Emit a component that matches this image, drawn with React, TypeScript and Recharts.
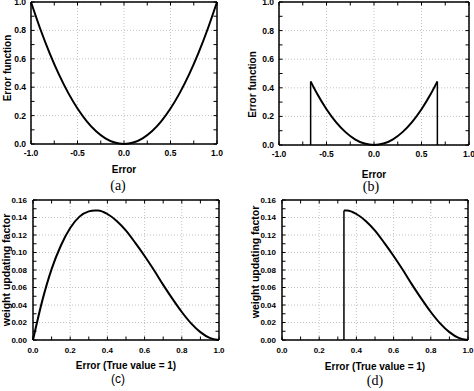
import React from 'react';
import { LineChart, Line, XAxis, YAxis, CartesianGrid } from 'recharts';

// ---- Panel (a): error function, full range ----
const A_X = [-1, -0.9, -0.8, -0.7, -0.6, -0.5, -0.4, -0.3, -0.2, -0.1, 0, 0.1, 0.2, 0.3, 0.4, 0.5, 0.6, 0.7, 0.8, 0.9, 1];
const A_Y = [1, 0.81, 0.64, 0.49, 0.36, 0.25, 0.16, 0.09, 0.04, 0.01, 0, 0.01, 0.04, 0.09, 0.16, 0.25, 0.36, 0.49, 0.64, 0.81, 1];

// ---- Panel (b): truncated error function ----
const B_X = [-0.667, -0.6, -0.5, -0.4, -0.3, -0.2, -0.1, 0, 0.1, 0.2, 0.3, 0.4, 0.5, 0.6, 0.667];
const B_Y = [0.444, 0.36, 0.25, 0.16, 0.09, 0.04, 0.01, 0, 0.01, 0.04, 0.09, 0.16, 0.25, 0.36, 0.444];
const B_EDGES = [-0.667, 0.667];
const B_EDGE_TOP = 0.444;

// ---- Panel (c): weight updating factor ----
const C_X = [0, 0.05, 0.1, 0.15, 0.2, 0.25, 0.3, 0.333, 0.35, 0.4, 0.45, 0.5, 0.55, 0.6, 0.65, 0.7, 0.75, 0.8, 0.85, 0.9, 0.95, 1];
const C_Y = [0, 0.045, 0.081, 0.108, 0.128, 0.141, 0.147, 0.148, 0.148, 0.144, 0.136, 0.125, 0.111, 0.096, 0.080, 0.063, 0.047, 0.032, 0.019, 0.009, 0.0024, 0];

// ---- Panel (d): truncated weight updating factor ----
const D_X = [0.333, 0.35, 0.4, 0.45, 0.5, 0.55, 0.6, 0.65, 0.7, 0.75, 0.8, 0.85, 0.9, 0.95, 1];
const D_Y = [0.148, 0.148, 0.144, 0.136, 0.125, 0.111, 0.096, 0.080, 0.063, 0.047, 0.032, 0.019, 0.009, 0.0024, 0];
const D_EDGE = 0.333;
const D_EDGE_TOP = 0.148;

// ---- Ticks ----
const ERR_X_MAJOR = [-1, -0.5, 0, 0.5, 1];
const ERR_X_MINOR = [-1, -0.75, -0.5, -0.25, 0, 0.25, 0.5, 0.75, 1];
const ERR_Y_MAJOR = [0, 0.2, 0.4, 0.6, 0.8, 1];
const ERR_Y_MINOR = [0, 0.1, 0.2, 0.3, 0.4, 0.5, 0.6, 0.7, 0.8, 0.9, 1];
const W_X_MAJOR = [0, 0.2, 0.4, 0.6, 0.8, 1];
const W_X_MINOR = [0, 0.1, 0.2, 0.3, 0.4, 0.5, 0.6, 0.7, 0.8, 0.9, 1];
const W_Y_MAJOR = [0, 0.02, 0.04, 0.06, 0.08, 0.1, 0.12, 0.14, 0.16];
const W_Y_MINOR = [0, 0.01, 0.02, 0.03, 0.04, 0.05, 0.06, 0.07, 0.08, 0.09, 0.1, 0.11, 0.12, 0.13, 0.14, 0.15, 0.16];

const zip = (xs: number[], ys: number[]) => xs.map((x, i) => ({ x, y: ys[i] }));
const isIn = (list: number[], v: number) => list.some((m) => Math.abs(m - v) < 1e-9);

const SANS = '"Liberation Sans", Arial, sans-serif';
const SERIF = '"Liberation Serif", "Times New Roman", serif';

type Series = { data: { x: number; y: number }[]; type: 'monotone' | 'linear'; w: number };

type PanelProps = {
  plotLeft: number; plotTop: number; plotW: number; plotH: number; yAxisWidth: number;
  xDomain: [number, number]; yDomain: [number, number];
  xMajor: number[]; xMinor: number[]; yMajor: number[]; yMinor: number[];
  xDigits: number; yDigits: number;
  xTitle: string; yTitle: string; xTitleOffset: number; yTitleOffset: number; yTitleDy: number;
  tickFont: number; yTitleFont: number;
  xLabelGap: number; yLabelGap: number;
  series: Series[];
};

const TICK_IN = 3.5;

function Panel(p: PanelProps) {
  const MT = 4, MR = 6, XH = 36;
  const W = p.yAxisWidth + p.plotW + MR;
  const H = MT + p.plotH + XH;
  const frame = { stroke: '#000', strokeWidth: 1.5 };
  const textProps = { fill: '#000', fontSize: p.tickFont, fontWeight: 700, fontFamily: SANS };

  // bottom axis tick: inward minor tick at bottom and top edge, label for majors
  const XTick = (t: any) => {
    const v = t.payload.value as number;
    const base = t.y - p.xLabelGap; // plot bottom edge
    return (
      <g>
        <line x1={t.x} x2={t.x} y1={base} y2={base - TICK_IN} stroke="#000" strokeWidth={1} />
        <line x1={t.x} x2={t.x} y1={base - p.plotH} y2={base - p.plotH + TICK_IN} stroke="#000" strokeWidth={1} />
        {isIn(p.xMajor, v) && (
          <text x={t.x} y={t.y} dy="0.71em" textAnchor="middle" {...textProps}>{v.toFixed(p.xDigits)}</text>
        )}
      </g>
    );
  };
  // left axis tick: inward minor tick at left and right edge, label for majors
  const YTick = (t: any) => {
    const v = t.payload.value as number;
    const base = t.x + p.yLabelGap; // plot left edge
    return (
      <g>
        <line x1={base} x2={base + TICK_IN} y1={t.y} y2={t.y} stroke="#000" strokeWidth={1} />
        <line x1={base + p.plotW} x2={base + p.plotW - TICK_IN} y1={t.y} y2={t.y} stroke="#000" strokeWidth={1} />
        {isIn(p.yMajor, v) && (
          <text x={t.x} y={t.y} dy="0.355em" textAnchor="end" {...textProps}>{v.toFixed(p.yDigits)}</text>
        )}
      </g>
    );
  };

  const base = p.series[0].data;
  return (
    <div style={{ position: 'absolute', left: p.plotLeft - p.yAxisWidth, top: p.plotTop - MT }}>
      <LineChart width={W} height={H} margin={{ top: MT, right: MR, left: 0, bottom: 0 }}>
        <CartesianGrid xAxisId="x" yAxisId="y" stroke="#c4c4c4" strokeDasharray="1 2" strokeWidth={1}
          verticalValues={p.xMajor} horizontalValues={p.yMajor} />
        <XAxis
          xAxisId="x" type="number" dataKey="x" domain={p.xDomain} ticks={p.xMinor} interval={0}
          height={XH} tickLine={false} axisLine={frame}
          tickSize={0} tickMargin={p.xLabelGap} tick={XTick}
          label={{ value: p.xTitle, position: 'insideBottom', offset: p.xTitleOffset, style: { fill: '#000', fontSize: 10, fontWeight: 700, fontFamily: SANS } }}
        />
        <XAxis xAxisId="xt" type="number" dataKey="x" domain={p.xDomain} ticks={p.xMinor} interval={0}
          orientation="top" mirror tickLine={false} tick={false} axisLine={frame} />
        <YAxis
          yAxisId="y" type="number" domain={p.yDomain} ticks={p.yMinor} interval={0}
          width={p.yAxisWidth} tickLine={false} axisLine={frame}
          tickSize={0} tickMargin={p.yLabelGap} tick={YTick}
          label={{ value: p.yTitle, angle: -90, position: 'insideLeft', offset: p.yTitleOffset, dy: p.yTitleDy,
            style: { textAnchor: 'middle', fill: '#000', fontSize: p.yTitleFont, fontWeight: 700, fontFamily: SANS } }}
        />
        <YAxis yAxisId="yr" type="number" domain={p.yDomain} ticks={p.yMinor} interval={0}
          orientation="right" mirror tickLine={false} tick={false} axisLine={frame} />
        <Line xAxisId="xt" yAxisId="yr" data={base} dataKey="y" stroke="#fff" strokeOpacity={0} dot={false}
          activeDot={false} legendType="none" isAnimationActive={false} />
        {p.series.map((s, i) => (
          <Line key={i} xAxisId="x" yAxisId="y" data={s.data} dataKey="y" type={s.type}
            stroke="#000" strokeWidth={s.w} dot={false} isAnimationActive={false} />
        ))}
      </LineChart>
    </div>
  );
}

function Caption({ text, cx, cy, font, size }: { text: string; cx: number; cy: number; font: string; size: number }) {
  return (
    <div style={{ position: 'absolute', left: cx, top: cy, transform: 'translate(-50%, -50%)', fontFamily: font,
      fontSize: size, lineHeight: 1, whiteSpace: 'nowrap', color: '#000' }}>{text}</div>
  );
}

export default function App() {
  const seriesA: Series[] = [{ data: zip(A_X, A_Y), type: 'monotone', w: 2 }];
  const seriesB: Series[] = [
    { data: zip(B_X, B_Y), type: 'monotone', w: 2 },
    ...B_EDGES.map((e) => ({ data: [{ x: e, y: 0 }, { x: e, y: B_EDGE_TOP }], type: 'linear' as const, w: 1.5 })),
  ];
  const seriesC: Series[] = [{ data: zip(C_X, C_Y), type: 'monotone', w: 2 }];
  const seriesD: Series[] = [
    { data: zip(D_X, D_Y), type: 'monotone', w: 2 },
    { data: [{ x: D_EDGE, y: 0 }, { x: D_EDGE, y: D_EDGE_TOP }], type: 'linear', w: 1.5 },
  ];
  const errCommon = {
    xDomain: [-1, 1] as [number, number], yDomain: [0, 1] as [number, number],
    xMajor: ERR_X_MAJOR, xMinor: ERR_X_MINOR, yMajor: ERR_Y_MAJOR, yMinor: ERR_Y_MINOR,
    xDigits: 1, yDigits: 1, xTitle: 'Error', yTitle: 'Error function', tickFont: 8.5, yTitleFont: 10,
    xLabelGap: 6, yLabelGap: 5,
  };
  const wCommon = {
    xDomain: [0, 1] as [number, number], yDomain: [0, 0.16] as [number, number],
    xMajor: W_X_MAJOR, xMinor: W_X_MINOR, yMajor: W_Y_MAJOR, yMinor: W_Y_MINOR,
    xDigits: 1, yDigits: 2, xTitle: 'Error (True value = 1)', yTitle: 'weight updating factor', tickFont: 8,
    yTitleFont: 10.5, xLabelGap: 7, yLabelGap: 6,
  };
  return (
    <div style={{ position: 'absolute', left: 0, top: 0, width: 474, height: 391, background: '#fff', overflow: 'hidden' }}>
      <Panel {...errCommon} plotLeft={31} plotTop={2} plotW={186} plotH={142} yAxisWidth={31}
        xTitleOffset={7.5} yTitleOffset={7} yTitleDy={-5} series={seriesA} />
      <Panel {...errCommon} plotLeft={279} plotTop={2} plotW={190} plotH={143} yAxisWidth={34}
        xTitleOffset={3.5} yTitleOffset={7} yTitleDy={11} series={seriesB} />
      <Panel {...wCommon} plotLeft={33} plotTop={200} plotW={186} plotH={140} yAxisWidth={33}
        xTitleOffset={7} yTitleOffset={6} yTitleDy={0} series={seriesC} />
      <Panel {...wCommon} plotLeft={282} plotTop={200} plotW={186} plotH={140} yAxisWidth={34}
        xTitleOffset={6} yTitleOffset={7} yTitleDy={-8} series={seriesD} />
      <Caption text="(a)" cx={118} cy={186} font={SERIF} size={14} />
      <Caption text="(b)" cx={371} cy={187} font={SERIF} size={14} />
      <Caption text="(c)" cx={118} cy={379} font={SANS} size={12} />
      <Caption text="(d)" cx={375} cy={381} font={SERIF} size={14} />
    </div>
  );
}
